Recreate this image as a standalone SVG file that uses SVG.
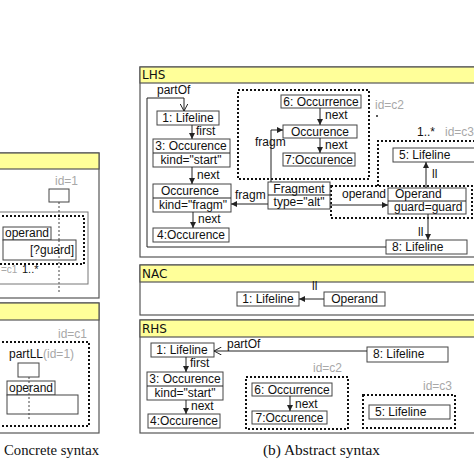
<svg xmlns="http://www.w3.org/2000/svg" width="474" height="474" viewBox="0 0 474 474">
<style>
text{font-family:"Liberation Sans",Arial,sans-serif;font-size:12px;fill:#111}
.c{text-anchor:middle}
.g{fill:#a8a8a8}
.hd{font-family:"DejaVu Sans","Liberation Sans",sans-serif;font-size:12px}
.cap{font-family:"Liberation Serif","Times New Roman",serif;font-size:14px}
.panel{fill:#fff;stroke:#555;stroke-width:1.2}
.head{fill:#ffff99;stroke:#555;stroke-width:1.2}
.box{fill:#fff;stroke:#444;stroke-width:1}
.gbox{fill:none;stroke:#777;stroke-width:1}
.dot{fill:none;stroke:#111;stroke-width:2;stroke-dasharray:2 2}
.dash{fill:none;stroke:#444;stroke-width:1;stroke-dasharray:2 2}
.ln{fill:none;stroke:#222;stroke-width:1}
</style>
<defs>
<marker id="fa" viewBox="0 0 6 6" refX="6" refY="3" markerWidth="6" markerHeight="6" markerUnits="userSpaceOnUse" orient="auto"><path d="M0,0 L6,3 L0,6 z" fill="#222"/></marker>
<marker id="oa" viewBox="0 0 8 8" refX="7.5" refY="4" markerWidth="8" markerHeight="8" markerUnits="userSpaceOnUse" orient="auto"><path d="M0,0 L7.5,4 L0,8" fill="none" stroke="#222" stroke-width="1"/></marker>
</defs>

<!-- Concrete syntax panels -->
<g id="concrete-top">
<rect class="panel" x="-2" y="153" width="101" height="145"/>
<rect class="head" x="-2" y="153" width="101" height="16"/>
<text class="g" x="55" y="185">id=1</text>
<rect class="box" x="49" y="189" width="20" height="13"/>
<line class="dash" x1="59" y1="202" x2="59" y2="293"/>
<rect class="gbox" x="-2" y="212" width="90" height="72"/>
<rect class="dot" x="-2" y="216" width="86" height="48"/>
<rect class="box" x="3" y="227" width="48" height="13"/>
<text x="5" y="237">operand</text>
<rect class="box" x="3" y="240" width="73" height="20"/>
<line class="dash" x1="59" y1="240" x2="59" y2="260"/>
<text x="74" y="254" style="text-anchor:end">[?guard]</text>
<text class="g" x="1" y="273" style="font-size:10px">=c1</text>
<text x="22" y="273" style="font-size:11px">1..*</text>
</g>
<g id="concrete-bottom">
<rect class="panel" x="-2" y="303" width="101" height="130"/>
<rect class="head" x="-2" y="303" width="101" height="17"/>
<text class="g" x="87" y="338" style="text-anchor:end">id=c1</text>
<rect class="dot" x="-2" y="342" width="91" height="84"/>
<text x="9" y="358">partLL<tspan class="g">(id=1)</tspan></text>
<rect class="box" x="18" y="363" width="21" height="14"/>
<rect class="box" x="7" y="381" width="48" height="14"/>
<text x="9" y="392">operand</text>
<rect class="box" x="7" y="395" width="71" height="19"/>
<line class="dash" x1="29" y1="377" x2="29" y2="419"/>
</g>
<text class="cap" x="4" y="455" textLength="95" lengthAdjust="spacingAndGlyphs">Concrete syntax</text>

<!-- LHS -->
<g id="lhs">
<rect class="panel" x="140" y="67" width="340" height="190"/>
<rect class="head" x="140" y="67" width="340" height="16"/>
<text class="hd" x="142" y="79">LHS</text>
<rect class="dot" x="238" y="90" width="131" height="89"/>
<text class="g" x="375" y="109">id=c2</text>
<circle cx="377" cy="116" r="1" fill="#222"/>
<rect class="dot" x="331" y="186" width="141" height="32"/>
<path class="dot" d="M378,186 V141 H480"/>
<text x="417" y="136">1..*</text>
<text class="g" x="445" y="136">id=c3</text>
</g>
<g id="lhs-lifeline1"><rect class="box" x="157" y="111" width="62" height="14"/><text class="c" x="188" y="122">1: Lifeline</text></g>
<g id="lhs-occ3"><rect class="box" x="153" y="139" width="77" height="28"/><line class="ln" x1="153" y1="153" x2="230" y2="153"/><text class="c" x="191" y="150">3: Occurence</text><text class="c" x="191" y="164">kind="start"</text></g>
<g id="lhs-occfragm"><rect class="box" x="153" y="184" width="78" height="28"/><line class="ln" x1="153" y1="198" x2="231" y2="198"/><text class="c" x="190" y="195">Occurence</text><text class="c" x="193" y="209">kind="fragm"</text></g>
<g id="lhs-occ4"><rect class="box" x="153" y="228" width="76" height="14"/><text class="c" x="191" y="239">4:Occurence</text></g>
<g id="lhs-occ6"><rect class="box" x="281" y="95" width="80" height="13"/><text class="c" x="321" y="106">6: Occurrence</text></g>
<g id="lhs-occ"><rect class="box" x="283" y="125" width="74" height="13"/><text class="c" x="320" y="136">Occurence</text></g>
<g id="lhs-occ7"><rect class="box" x="283" y="153" width="72" height="13"/><text class="c" x="319" y="164">7:Occurence</text></g>
<g id="lhs-fragment"><rect class="box" x="268" y="182" width="62" height="27"/><line class="ln" x1="268" y1="195" x2="330" y2="195"/><text class="c" x="299" y="193">Fragment</text><text class="c" x="299" y="206">type="alt"</text></g>
<g id="lhs-lifeline5"><rect class="box" x="393" y="148" width="90" height="14"/><text x="399" y="159">5: Lifeline</text></g>
<g id="lhs-operand"><rect class="box" x="388" y="188" width="78" height="26"/><line class="ln" x1="388" y1="201" x2="466" y2="201"/><text x="395" y="198">Operand</text><text x="394" y="211">guard=guard</text></g>
<g id="lhs-lifeline8"><rect class="box" x="386" y="240" width="81" height="14"/><text x="392" y="251">8: Lifeline</text></g>

<!-- NAC -->
<g id="nac">
<rect class="panel" x="140" y="265" width="340" height="50"/>
<rect class="head" x="140" y="265" width="340" height="17"/>
<text class="hd" x="142" y="278">NAC</text>
</g>
<g id="nac-lifeline1"><rect class="box" x="237" y="292" width="62" height="14"/><text class="c" x="268" y="303">1: Lifeline</text></g>
<g id="nac-operand"><rect class="box" x="324" y="292" width="61" height="14"/><text class="c" x="354.5" y="303">Operand</text></g>

<!-- RHS -->
<g id="rhs">
<rect class="panel" x="140" y="320" width="340" height="113"/>
<rect class="head" x="140" y="320" width="340" height="17"/>
<text class="hd" x="142" y="333">RHS</text>
<rect class="dot" x="246" y="377" width="102" height="52"/>
<text class="g" x="313" y="372">id=c2</text>
<rect class="dot" x="363" y="395" width="92" height="33"/>
<text class="g" x="423" y="390">id=c3</text>
</g>
<g id="rhs-lifeline1"><rect class="box" x="151" y="343" width="63" height="14"/><text class="c" x="182" y="354">1: Lifeline</text></g>
<g id="rhs-occ3"><rect class="box" x="147" y="372" width="76" height="28"/><line class="ln" x1="147" y1="386" x2="223" y2="386"/><text class="c" x="185" y="383">3: Occurence</text><text class="c" x="185" y="397">kind="start"</text></g>
<g id="rhs-occ4"><rect class="box" x="148" y="414" width="72" height="14"/><text class="c" x="184" y="425">4:Occurence</text></g>
<g id="rhs-occ6"><rect class="box" x="252" y="383" width="80" height="13"/><text class="c" x="292" y="394">6: Occurrence</text></g>
<g id="rhs-occ7"><rect class="box" x="252" y="411" width="75" height="13"/><text class="c" x="289.5" y="422">7:Occurence</text></g>
<g id="rhs-lifeline8"><rect class="box" x="367" y="347" width="81" height="15"/><text x="373" y="358">8: Lifeline</text></g>
<g id="rhs-lifeline5"><rect class="box" x="369" y="405" width="81" height="14"/><text x="375" y="416">5: Lifeline</text></g>

<!-- connectors -->
<g id="connectors">
<polyline class="ln" points="386,247 147,247 147,98 184,98 184,111" marker-end="url(#oa)"/>
<text x="157" y="94">partOf</text>
<line class="ln" x1="192" y1="125" x2="192" y2="139" marker-end="url(#fa)"/>
<text x="196" y="135">first</text>
<line class="ln" x1="192" y1="167" x2="192" y2="184" marker-end="url(#fa)"/>
<text x="197" y="179">next</text>
<line class="ln" x1="193" y1="212" x2="193" y2="228" marker-end="url(#fa)"/>
<text x="198" y="223">next</text>
<line class="ln" x1="320" y1="108" x2="320" y2="125" marker-end="url(#fa)"/>
<text x="325" y="119">next</text>
<line class="ln" x1="320" y1="138" x2="320" y2="153" marker-end="url(#fa)"/>
<text x="325" y="149">next</text>
<polyline class="ln" points="271,182 271,130 283,130" marker-end="url(#fa)"/>
<text x="255" y="146">fragm</text>
<line class="ln" x1="268" y1="204" x2="231" y2="204" marker-end="url(#fa)"/>
<text x="235" y="199">fragm</text>
<line class="ln" x1="330" y1="205" x2="388" y2="205" marker-end="url(#fa)"/>
<text x="342" y="198">operand</text>
<line class="ln" x1="426" y1="188" x2="426" y2="162" marker-end="url(#fa)"/>
<text x="432" y="178">ll</text>
<line class="ln" x1="428" y1="214" x2="428" y2="240" marker-end="url(#fa)"/>
<text x="418" y="236">ll</text>
<line class="ln" x1="324" y1="299" x2="299" y2="299" marker-end="url(#fa)"/>
<text x="312" y="290">ll</text>
<line class="ln" x1="367" y1="351" x2="214" y2="351" marker-end="url(#oa)"/>
<text x="227" y="348">partOf</text>
<line class="ln" x1="186" y1="357" x2="186" y2="372" marker-end="url(#fa)"/>
<text x="190" y="367">first</text>
<line class="ln" x1="186" y1="400" x2="186" y2="414" marker-end="url(#fa)"/>
<text x="191" y="410">next</text>
<line class="ln" x1="290" y1="396" x2="290" y2="411" marker-end="url(#fa)"/>
<text x="295" y="408">next</text>
</g>
<text class="cap" x="263" y="455" textLength="117" lengthAdjust="spacingAndGlyphs">(b) Abstract syntax</text>
</svg>
